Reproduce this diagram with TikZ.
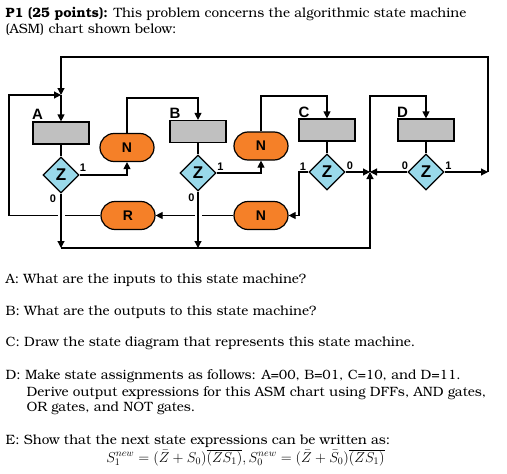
\documentclass[tikz,border=0pt]{standalone}
\usepackage{fontspec}
\setmainfont{TeX Gyre Bonum}
\newfontfamily\arialf{Liberation Sans}
\usetikzlibrary{shapes.geometric,shapes.misc,arrows.meta,calc}
\definecolor{boxgray}{RGB}{192,192,192}
\definecolor{dblue}{RGB}{153,217,234}
\definecolor{oorange}{RGB}{245,128,40}
\begin{document}
\begin{tikzpicture}[x=1pt,y=-1pt, line width=1.2pt,
  statebox/.style={draw, fill=boxgray, minimum width=56pt, minimum height=22pt, inner sep=0pt},
  dec/.style={diamond, draw, fill=dblue, minimum width=36pt, minimum height=36pt, inner sep=0pt, font=\arialf\bfseries\fontsize{17}{17}\selectfont},
  outbox/.style={rounded rectangle, draw, fill=oorange, minimum width=54pt, minimum height=28pt, inner sep=0pt, font=\arialf\bfseries\fontsize{14}{14}\selectfont},
  lbl/.style={font=\arialf\bfseries\fontsize{15}{15}\selectfont, inner sep=0pt},
  bit/.style={font=\arialf\bfseries\fontsize{11}{11}\selectfont, inner sep=0pt},
  arr/.style={-{Triangle[length=7pt,width=7pt]}},
  txt/.style={anchor=base west, inner sep=0pt, font=\fontsize{13.5}{16}\selectfont},
  gap/.style={fill=white, draw=none},
]
\useasboundingbox (0,0) rectangle (507,474);

% text
\node[txt] (t1) at (5,17) {\textbf{P1 (25 points):} This problem concerns the algorithmic state machine};
\node[txt] (t2) at (5,33) {(ASM) chart shown below:};
\node[txt] (qa) at (5,283) {A: What are the inputs to this state machine?};
\node[txt] (qb) at (5,315) {B: What are the outputs to this state machine?};
\node[txt] (qc) at (5,346) {C: Draw the state diagram that represents this state machine.};
\node[txt] (qd1) at (5,379) {D: Make state assignments as follows: A=00, B=01, C=10, and D=11.};
\node[txt] (qd2) at (26,396) {Derive output expressions for this ASM chart using DFFs, AND gates,};
\node[txt] (qd3) at (26,411) {OR gates, and NOT gates.};
\node[txt] (qe) at (5,444) {E: Show that the next state expressions can be written as:};
\node[anchor=base, inner sep=0pt, font=\fontsize{13.6}{16}\selectfont] (eq) at (245.5,462)
  {$S_1^{new} = (\bar{Z} + S_0)\overline{(ZS_1)}, S_0^{new} = (\bar{Z} + \bar{S}_0)\overline{(ZS_1)}$};

% state boxes
\node[statebox] (bA) at (61,133) {};
\node[statebox] (bB) at (198,131.5) {};
\node[statebox] (bC) at (327,130) {};
\node[statebox] (bD) at (426,130) {};
\node[lbl] (lA) at (37.5,114.5) {A};
\node[lbl] (lB) at (175,113.5) {B};
\node[lbl] (lC) at (304,112) {C};
\node[lbl] (lD) at (402.5,112) {D};

% decisions
\node[dec] (dA) at (61,175) {Z};
\node[dec] (dB) at (198,173) {Z};
\node[dec] (dC) at (327,172) {Z};
\node[dec] (dD) at (426,172) {Z};
\node[bit] (a1) at (83,168) {1};
\node[bit] (a0) at (53,199) {0};
\node[bit] (b1) at (220.5,167) {1};
\node[bit] (b0) at (191.5,198) {0};
\node[bit] (c1) at (303,166.5) {1};
\node[bit] (c0) at (350,166) {0};
\node[bit] (d0) at (405,166) {0};
\node[bit] (d1) at (448.5,166) {1};

% outputs
\node[outbox] (n1) at (127,147.5) {N};
\node[outbox] (n2) at (261,146) {N};
\node[outbox] (r) at (128,215.5) {R};
\node[outbox] (n3) at (261,215.5) {N};

% helper coordinates
\coordinate (jA) at (61,95);
\coordinate (jD) at (370,172);
\coordinate (botL) at (61,248);
\coordinate (botB) at (198,248);
\coordinate (rt) at (488,172);
\coordinate (yTop) at (0,57);
\coordinate (yAB) at (0,98);
\coordinate (yBC) at (0,96);
\coordinate (yCD) at (0,96);
\coordinate (xL) at (9,0);
\coordinate (xC) at (299,0);

% connectors
\draw[arr] (dA.east) -| (n1.south);
\draw[arr] (n1.north) -- (n1.north |- yAB) -| (bB.north);
\draw[arr] (dB.east) -| (n2.south);
\draw[arr] (n2.north) -- (n2.north |- yBC) -| (bC.north);
\draw[arr] (dC.west) -- (dC.west -| xC) |- (n3.east);
\draw[arr] (n3.west) -- (r.east);
\draw[arr] (r.west) -- (r.west -| xL) |- (jA);
\fill[gap] ($(dA.south |- r.west)+(-3.5,-3.5)$) rectangle ++(7,7);
\fill[gap] ($(dB.south |- r.west)+(-3.5,-3.5)$) rectangle ++(7,7);
\draw[arr] (dA.south) -- (botL);
\draw[arr] (dB.south) -- (botB);
\draw[arr] (botL) -| (jD);
\draw[arr] (dC.east) -- (jD);
\draw[arr] (dD.west) -- (jD);
\draw[arr] (jD) -- (jD |- yCD) -| (bD.north);
\draw[arr] (dD.east) -- (rt);
\draw[arr] (rt) -- (rt |- yTop) -| (jA);
\draw[arr] (jA) -- (bA.north);
\draw (bA.south) -- (dA.north);
\draw (bB.south) -- (dB.north);
\draw (bC.south) -- (dC.north);
\draw (bD.south) -- (dD.north);
\end{tikzpicture}
\end{document}
